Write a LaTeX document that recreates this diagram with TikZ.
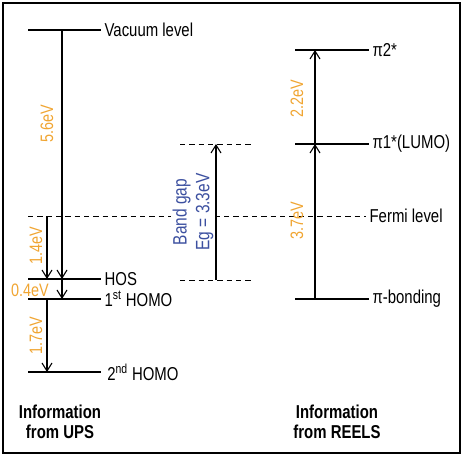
\documentclass[tikz,border=0pt]{standalone}
\usepackage{fontspec}
\setmainfont{Liberation Sans}[FakeStretch=0.8]
\usetikzlibrary{arrows.meta}
\definecolor{evorange}{RGB}{240,165,50}
\definecolor{gapblue}{RGB}{60,80,160}
\tikzset{
  level/.style={line width=0.8pt},
  fermi/.style={line width=0.7pt, dash pattern=on 4pt off 3pt},
  arr/.style={line width=0.8pt, -{Straight Barb[length=6pt,width=7.5pt]}},
  lbl/.style={anchor=west, inner sep=2.5pt, font=\fontsize{14}{16}\selectfont},
  ev/.style={text=evorange, inner sep=0pt, font=\fontsize{13.5}{15}\selectfont},
  info/.style={align=center, inner sep=0pt, font=\fontsize{14}{15}\selectfont\bfseries}
}

\begin{document}
\begin{tikzpicture}[x=0.75pt, y=-0.75pt]
\useasboundingbox (0,0) rectangle (464,457);
\draw[line width=1.1pt] (3,3) rectangle (460,453);
%%%%%%%%%%%%%%%%%%%%%%%%%%%%%%%%%%%%%
% Fermi level and band gap
    \coordinate (fermiL) at (28,216);
    \coordinate (fermiR) at (366,216);
    \draw[fermi] (fermiL) -- (fermiR);
    \node[lbl] (fermitxt) at (fermiR) {Fermi level};
    \coordinate (gapTL) at (180,144);
    \coordinate (gapTR) at (252,144);
    \coordinate (gapBL) at (180,280);
    \coordinate (gapBR) at (252,280);
    \draw[fermi] (gapTL) -- (gapTR);
    \draw[fermi] (gapBL) -- (gapBR);
    \coordinate (colG) at (216,0);
    \draw[arr, {Straight Barb[length=6pt,width=7.5pt]}-] (gapTL -| colG) -- (gapBL -| colG);
    \node[rotate=90, align=center, fill=white, inner sep=1pt, text=gapblue,
          font=\fontsize{14.5}{17}\selectfont] (gaptxt) at (193,212) {Band gap\\Eg = 3.3eV};
%%%%%%%%%%%%%%%%%%%%%%%%%%%%%%%%%%%%%
% UPS side
\begin{scope}
    \coordinate (vacL) at (28,30);   \coordinate (vacR) at (101,30);
    \coordinate (hosL) at (28,279);  \coordinate (hosR) at (101,279);
    \coordinate (homoaL) at (28,299); \coordinate (homoaR) at (101,299);
    \coordinate (homobL) at (28,372); \coordinate (homobR) at (101,372);
    \draw[level] (vacL) -- (vacR);
    \draw[level] (hosL) -- (hosR);
    \draw[level] (homoaL) -- (homoaR);
    \draw[level] (homobL) -- (homobR);
    \node[lbl] (vactxt) at (vacR) {Vacuum level};
    \node[lbl] (hostxt) at (hosR) {HOS};
    \node[lbl] (homoatxt) at (homoaR) {1\textsuperscript{st} HOMO};
    \node[lbl] (homobtxt) at ([xshift=2]homobR) {2\textsuperscript{nd} HOMO};
    %
    \coordinate (colA) at (62,0);
    \coordinate (colB) at (47,0);
    \draw[arr] (vacL -| colA) -- (hosL -| colA);
    \draw[arr] (hosL -| colA) -- (homoaL -| colA);
    \draw[arr] (fermiL -| colB) -- (hosL -| colB);
    \draw[arr] (homoaL -| colB) -- (homobL -| colB);
    \node[ev, rotate=90] (eva) at (47,124) {5.6eV};
    \node[ev, rotate=90] (evb) at (36,246) {1.4eV};
    \node[ev] (evc) at (30,290) {0.4eV};
    \node[ev, rotate=90] (evd) at (36,336) {1.7eV};
    \node[info] (upsinfo) at (60,422) {Information\\from UPS};
\end{scope}
%%%%%%%%%%%%%%%%%%%%%%%%%%%%%%%%%%%%%
% REELS side
\begin{scope}
    \coordinate (pibL) at (295,50);  \coordinate (pibR) at (369,50);
    \coordinate (piaL) at (295,144); \coordinate (piaR) at (369,144);
    \coordinate (pinL) at (295,299); \coordinate (pinR) at (369,299);
    \draw[line width=1.6pt] (pibL) -- (pibR);
    \draw[level] (piaL) -- (piaR);
    \draw[level] (pinL) -- (pinR);
    \node[lbl] (pibtxt) at (pibR) {π2*};
    \node[lbl] (piatxt) at (piaR) {π1*(LUMO)};
    \node[lbl] (pintxt) at (pinR) {π-bonding};
    %
    \coordinate (colR) at (315,0);
    \draw[arr] (pinL -| colR) -- (piaL -| colR);
    \draw[arr] (piaL -| colR) -- (pibL -| colR);
    \node[ev, rotate=90] (eve) at (297,99) {2.2eV};
    \node[ev, rotate=90] (evf) at (297,221) {3.7eV};
    \node[info] (reelsinfo) at (337,422) {Information\\from REELS};
\end{scope}
\end{tikzpicture}
\end{document}
